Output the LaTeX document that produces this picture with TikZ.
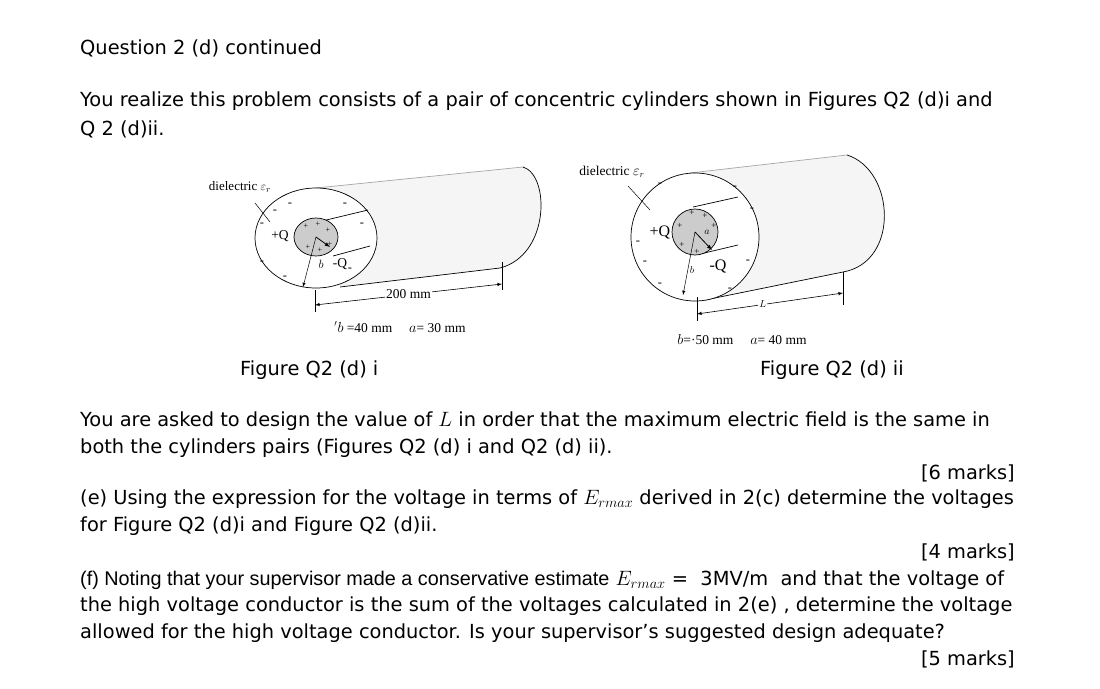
\documentclass[tikz,border=0pt]{standalone}
\usepackage{fontspec}
\setmainfont{DejaVu Sans}
\newfontfamily\serf{Liberation Serif}
\newfontfamily\arl{Liberation Sans}
\begin{document}
\begin{tikzpicture}[x=1pt,y=-1pt,
  body/.style={anchor=west,font=\fontsize{19.4}{22}\selectfont,inner sep=0},
  fig/.style={font=\serf\fontsize{12.5}{14}\selectfont,inner sep=1pt},
  ln/.style={line width=0.7pt},
  dim/.style={line width=0.6pt,-latex}]
\useasboundingbox (0,0) rectangle (1100,688);
\fill[white] (0,0) rectangle (1100,688);
% text
\node[body] (t1) at (80,48) {Question 2 (d) continued};
\node[body] (t2) at (80,101) {You realize this problem consists of a pair of concentric cylinders shown in Figures Q2 (d)i and};
\node[body] (t3) at (80,129) {Q 2 (d)ii.};
\node[body] (c1) at (240,370) {Figure Q2 (d) i};
\node[body] (c2) at (760,370) {Figure Q2 (d) ii};
\node[body] (t4) at (80,421) {You are asked to design the value of $L$ in order that the maximum electric field is the same in};
\node[body] (t5) at (80,448) {both the cylinders pairs (Figures Q2 (d) i and Q2 (d) ii).};
\node[body,anchor=east] (m6) at (1015,473) {[6 marks]};
\node[body] (t6) at (80,499) {(e) Using the expression for the voltage in terms of $E_{rmax}$ derived in 2(c) determine the voltages};
\node[body] (t7) at (80,526) {for Figure Q2 (d)i and Figure Q2 (d)ii.};
\node[body,anchor=east] (m4) at (1015,552) {[4 marks]};
\node[body] (t8) at (80,580) {{\arl\fontsize{19.8}{20}\selectfont (f) Noting that your supervisor made a conservative estimate} $E_{rmax}$ = \ 3MV/m \ and that the voltage of};
\node[body] (t9) at (80,606) {the high voltage conductor is the sum of the voltages calculated in 2(e) , determine the voltage};
\node[body] (t10) at (80,633) {allowed for the high voltage conductor. Is your supervisor’s suggested design adequate?};
\node[body,anchor=east] (m5) at (1015,659) {[5 marks]};
% figure 1
\fill[gray!8] (316,188) -- (523,167) .. controls (550,175) and (550,255) .. (500,268) -- (340,287) -- cycle;
\draw[ln,gray!70] (316,188) -- (523,167);
\draw[ln] (523,167) .. controls (550,175) and (550,255) .. (500,268) -- (340,287);
\draw[ln,fill=white] (316,238) ellipse (61 and 50);
\draw[ln] (318,222) -- (368,210);
\draw[ln] (333,256) -- (370,246);
\draw[ln,fill=gray!40] (316,237) ellipse (22 and 19);
\foreach \p in {(306,226),(318,224),(328,230),(308,247),(320,250),(330,244)} \node[fig,font=\serf\fontsize{8}{8}\selectfont] at \p {+};
\foreach \p in {(262,225),(290,205),(345,205),(362,225),(262,263),(285,278),(350,270),(275,212)} \node[fig] at \p {-};
\node[fig,font=\serf\fontsize{13}{14}\selectfont] (d1) at (240,187) {dielectric $\varepsilon_r$};
\coordinate (d1e) at (270,222);
\draw[line width=0.5pt] (255,203) -- (d1e);
\node[fig,font=\serf\fontsize{13.5}{14}\selectfont] (q1) at (280,236) {+Q};
\node[fig,font=\serf\fontsize{13.5}{14}\selectfont] (q2) at (340,264) {-Q};
\coordinate (o1) at (316,237);
\coordinate (a1) at (330,247);
\coordinate (b1) at (303,287);
\draw[-latex,line width=0.8pt] (o1) -- (a1);
\draw[-latex,line width=0.5pt] (o1) -- (b1);
\node[fig] (bl1) at (321,264) {$b$};
\coordinate (l1a) at (315,290); \coordinate (l1b) at (315,312);
\coordinate (r1a) at (502,262); \coordinate (r1b) at (502,290);
\draw[line width=0.5pt] (l1a) -- (l1b); \draw[line width=0.5pt] (r1a) -- (r1b);
\coordinate (p1) at (315,305); \coordinate (p2) at (502,284);
\draw[dim,latex-latex] (p1) -- (p2) node[midway,fill=white,fig,font=\serf\fontsize{13.5}{14}\selectfont] {200 mm};
\node[fig,font=\serf\fontsize{13.5}{14}\selectfont] (v1) at (400,327) {$'b$ =40 mm \quad $a$= 30 mm};
% figure 2
\fill[gray!8] (690,173) -- (847,155) .. controls (895,170) and (900,262) .. (843,272) -- (705,300) -- cycle;
\draw[ln,gray!70] (690,173) -- (847,155);
\draw[ln] (847,155) .. controls (895,170) and (900,262) .. (843,272) -- (705,300);
\draw[ln,fill=white] (695,237) circle (64);
\draw[ln] (693,207) -- (738,197);
\draw[ln] (700,254) -- (738,245);
\draw[ln,fill=gray!40] (695,232) circle (23);
\foreach \p in {(692,213),(705,216),(714,226),(682,245),(697,252),(680,226)} \node[fig,font=\serf\fontsize{9}{9}\selectfont] at \p {+};
\foreach \p in {(638,243),(660,185),(735,188),(752,210),(748,262),(645,263),(660,285),(730,290)} \node[fig] at \p {-};
\node[fig,font=\serf\fontsize{13.5}{14}\selectfont] (d2) at (612,172) {dielectric $\varepsilon_r$};
\coordinate (d2e) at (650,210);
\draw[line width=0.5pt] (628,186) -- (d2e);
\node[fig,font=\serf\fontsize{16}{18}\selectfont] (q3) at (660,232) {+Q};
\node[fig,font=\serf\fontsize{16}{18}\selectfont] (q4) at (718,266) {-Q};
\coordinate (o2) at (695,232);
\coordinate (a2) at (712,250);
\coordinate (b2) at (683,295);
\draw[-latex,line width=0.8pt] (o2) -- (a2);
\node[fig,font=\serf\fontsize{10}{10}\selectfont] at (707,232) {$a$};
\draw[-latex,line width=0.5pt] (o2) -- (b2);
\node[fig,font=\serf\fontsize{10}{10}\selectfont] (bl2) at (692,270) {$b$};
\coordinate (l2a) at (697,297); \coordinate (l2b) at (697,321);
\coordinate (r2a) at (843,272); \coordinate (r2b) at (843,305);
\draw[line width=0.6pt] (l2a) -- (l2b); \draw[line width=0.6pt] (r2a) -- (r2b);
\coordinate (p3) at (697,314); \coordinate (p4) at (843,293);
\draw[dim,latex-latex] (p3) -- (p4) node[pos=0.45,fill=white,fig,font=\serf\fontsize{10}{10}\selectfont] {$L$};
\node[fig,font=\serf\fontsize{13.5}{14}\selectfont] (v2) at (742,340) {$b$=·50 mm \quad $a$= 40 mm};
\end{tikzpicture}
\end{document}
